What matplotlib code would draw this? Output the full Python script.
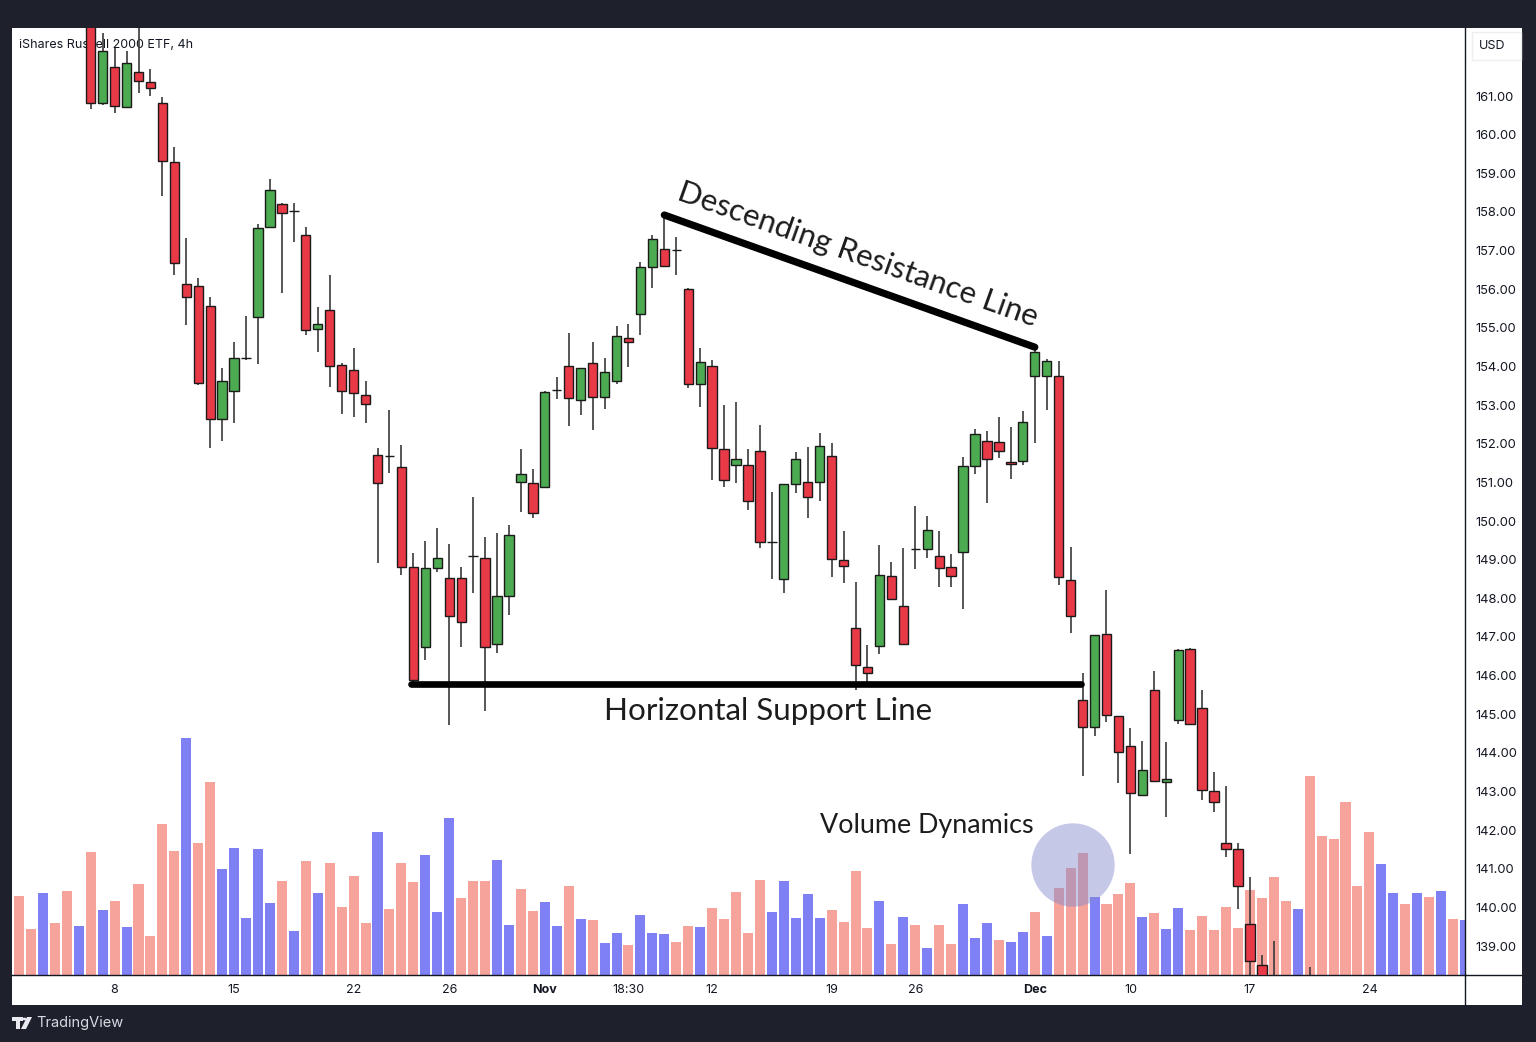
import numpy as np
import matplotlib
matplotlib.use("Agg")
import matplotlib.pyplot as plt
from matplotlib.patches import Rectangle, Polygon, Circle

W, H = 1536, 1042

# 4h candles, first visible bar has index 6 on the time axis
first_candle = 6
opens = [163.40, 160.81, 161.76, 160.72, 161.63, 161.35, 160.81, 159.28, 156.13, 156.09,
         155.57, 152.63, 153.37, 154.23, 155.29, 157.62, 158.20, 158.03, 157.40, 154.97,
         155.46, 154.04, 153.91, 153.26, 151.70, 151.69, 151.41, 148.80, 146.73, 148.78,
         148.52, 148.52, 149.10, 149.04, 146.83, 148.06, 151.02, 150.99, 150.89, 153.39,
         154.01, 153.13, 154.08, 153.20, 153.63, 154.75, 155.36, 156.57, 157.04, 157.01,
         156.00, 153.55, 154.00, 151.86, 151.45, 151.45, 151.81, 149.47, 148.49, 150.96,
         151.00, 151.00, 151.68, 148.98, 147.24, 146.23, 146.77, 148.58, 147.80, 149.28,
         149.28, 149.10, 148.80, 149.21, 151.42, 152.08, 152.05, 151.54, 151.56, 153.76,
         153.76, 153.75, 148.47, 145.38, 144.68, 147.08, 144.95, 144.19, 142.92, 145.62,
         143.25, 144.84, 146.70, 145.17, 143.01, 141.66, 141.50, 139.58, 138.52, 137.90,
         137.20, 136.90, 137.40]
highs = [163.80, 162.64, 162.23, 162.17, 162.90, 161.69, 160.97, 159.69, 157.32, 156.28,
         155.79, 153.95, 154.64, 155.31, 157.69, 158.84, 158.22, 158.22, 157.62, 155.53,
         156.37, 154.10, 154.47, 153.62, 151.88, 152.87, 151.97, 149.18, 149.49, 149.81,
         149.41, 148.80, 150.63, 149.60, 149.68, 149.90, 151.86, 151.34, 153.36, 153.74,
         154.86, 153.97, 154.64, 154.21, 155.05, 155.10, 156.71, 157.40, 157.92, 157.36,
         156.02, 154.49, 154.17, 153.00, 153.09, 151.86, 152.49, 150.74, 150.97, 151.79,
         151.91, 152.29, 152.01, 149.73, 148.43, 146.79, 149.38, 148.95, 149.29, 150.40,
         150.14, 149.73, 149.15, 151.67, 152.37, 152.34, 152.70, 152.44, 152.86, 154.50,
         154.20, 154.13, 149.32, 146.08, 147.06, 148.21, 144.96, 144.65, 144.32, 146.12,
         144.27, 146.68, 146.71, 145.62, 143.51, 143.14, 141.66, 140.80, 138.77, 139.12,
         137.80, 137.60, 138.45]
lows = [160.66, 160.78, 160.57, 160.70, 161.09, 161.00, 158.41, 156.37, 155.07, 153.52,
        151.88, 152.06, 152.53, 154.18, 154.06, 157.60, 155.90, 157.23, 154.81, 154.38,
        153.48, 152.76, 152.68, 152.53, 148.91, 151.24, 148.60, 145.80, 146.40, 148.67,
        144.72, 146.73, 148.13, 145.09, 146.58, 147.57, 150.24, 150.07, 150.85, 153.15,
        152.46, 152.74, 152.36, 152.89, 153.54, 153.98, 154.81, 156.03, 156.58, 156.37,
        153.44, 152.96, 151.06, 150.87, 150.98, 150.29, 149.29, 148.49, 148.13, 150.72,
        150.07, 150.53, 148.56, 148.39, 145.63, 145.76, 146.56, 147.95, 146.82, 148.75,
        149.04, 148.30, 148.30, 147.72, 151.22, 150.46, 151.62, 151.10, 151.45, 152.03,
        152.87, 148.34, 147.10, 143.39, 144.44, 144.81, 143.22, 141.38, 142.90, 143.25,
        142.35, 144.76, 144.74, 142.79, 142.47, 141.31, 139.95, 137.60, 137.20, 136.80,
        136.50, 136.30, 136.80]
closes = [160.83, 162.17, 160.74, 161.85, 161.39, 161.20, 159.33, 156.67, 155.81, 153.56,
          152.63, 153.62, 154.23, 154.23, 157.58, 158.57, 157.98, 158.03, 154.94, 155.09,
          154.01, 153.37, 153.31, 153.02, 150.98, 151.69, 148.82, 145.89, 148.79, 149.04,
          147.54, 147.40, 149.10, 146.73, 148.06, 149.64, 151.22, 150.22, 153.35, 153.39,
          153.18, 153.95, 153.20, 153.85, 154.79, 154.63, 156.57, 157.29, 156.61, 157.01,
          153.55, 154.12, 151.90, 151.06, 151.60, 150.53, 149.45, 149.47, 150.95, 151.60,
          150.62, 151.95, 149.02, 148.84, 146.28, 146.08, 148.60, 147.97, 146.82, 149.28,
          149.77, 148.79, 148.58, 151.43, 152.25, 151.60, 151.82, 151.47, 152.57, 154.38,
          154.15, 148.54, 147.53, 144.68, 147.05, 144.97, 144.02, 142.95, 143.57, 143.27,
          143.33, 146.67, 144.76, 143.03, 142.73, 141.52, 140.55, 138.61, 137.60, 137.10,
          136.90, 137.30, 137.90]

# volume (millions), first bar index -1
first_vol = -1
volumes = [4.7, 7.9, 4.6, 8.2, 5.2, 8.4, 4.9, 12.3, 6.5, 7.4,
           4.8, 9.1, 3.9, 15.1, 12.4, 23.7, 13.2, 19.3, 10.6, 12.7,
           5.7, 12.6, 7.2, 9.4, 4.4, 11.4, 8.2, 11.2, 6.8, 9.9,
           5.2, 14.3, 6.6, 11.2, 9.3, 12.0, 6.3, 15.7, 7.7, 9.4,
           9.4, 11.5, 5.0, 8.6, 6.4, 7.3, 4.9, 8.9, 5.6, 5.5,
           3.2, 4.2, 3.0, 6.0, 4.2, 4.1, 3.3, 4.9, 4.8, 6.7,
           5.6, 8.3, 4.2, 9.5, 6.3, 9.4, 5.7, 8.1, 5.7, 6.5,
           5.3, 10.4, 4.7, 7.4, 3.1, 5.8, 5.0, 2.7, 5.0, 3.1,
           7.1, 3.7, 5.2, 3.5, 3.3, 4.3, 6.3, 3.9, 8.7, 10.7,
           12.2, 7.8, 7.1, 8.1, 9.2, 5.8, 6.2, 4.6, 6.7, 4.5,
           5.9, 4.5, 6.8, 4.7, 8.5, 7.7, 9.8, 7.4, 6.6, 19.9,
           13.9, 13.6, 17.3, 8.9, 14.3, 11.1, 8.2, 7.1, 8.2, 7.8,
           8.4, 5.6, 5.5]
vol_dir = ("ddduddudud" "uddddudduu" "uuudududdd" "duddduuudd" "duudduudud"
           "uuduuuddud" "dddduuuuud" "dddudududd" "uuuduududd" "duddduduud"
           "ddddddddud" "ddddduudud" "udu")

tick_pos = [8, 18, 28, 36, 44, 51, 58, 68, 75, 85, 93, 103, 113]
tick_labels = ["8", "15", "22", "26", "Nov", "18:30", "12", "19", "26", "Dec", "10", "17", "24"]
price_ticks = list(range(139, 162))

# drawn annotations (bar index, price)
support_x = [32.8, 88.9]
support_y = [145.78, 145.78]
resist_x = [54.0, 85.0]
resist_y = [157.92, 154.50]

UP_COL, DOWN_COL = "#4caa50", "#e83946"
VOL_UP, VOL_DOWN = "#8080f5", "#f5a39b"
DARK = "#1e212b"
TXT = "#131722"
NOTE = ["Lato", "DejaVu Sans"]


def fx(x):
    return x / W


def fy(y):
    return 1 - y / H


def fig_line(fig, x0, y0, x1, y1):
    fig.add_artist(plt.Line2D([fx(x0), fx(x1)], [fy(y0), fy(y1)], transform=fig.transFigure,
                              color=TXT, lw=1.0))


def main() -> None:
    plt.rcParams['font.family'] = ['Inter', 'DejaVu Sans']

    fig = plt.figure(figsize=(W / 100, H / 100), dpi=100, facecolor=DARK)
    fig.patches.append(Rectangle((fx(12), fy(1005)), 1510 / W, 977 / H, transform=fig.transFigure,
                                 facecolor="white", edgecolor="none", zorder=-5))

    pos = [fx(12), fy(975), 1453 / W, 947 / H]
    xlim = (-0.586, 121.0)

    # volume pane underneath
    axv = fig.add_axes(pos)
    axv.set_xlim(xlim)
    axv.set_ylim(0, 94.7)
    axv.axis("off")
    vx = np.arange(first_vol, first_vol + len(volumes))
    vcol = [VOL_UP if d == "u" else VOL_DOWN for d in vol_dir]
    axv.bar(vx, volumes, width=0.84, color=vcol, zorder=2)
    # highlight around the volume spike
    axv.scatter([88.2], [11.0], s=3600, color="#868ad0", alpha=0.47, edgecolors="none", zorder=3)

    ax = fig.add_axes(pos)
    ax.patch.set_alpha(0)
    ax.set_xlim(xlim)
    ax.set_ylim(138.252, 162.76)

    o = np.array(opens)
    h = np.array(highs)
    l = np.array(lows)
    c = np.array(closes)
    x = np.arange(first_candle, first_candle + len(o))
    ccol = [UP_COL if cc >= oo else DOWN_COL for oo, cc in zip(o, c)]
    ax.vlines(x, l, h, color="#3a3a3a", lw=1.2, zorder=2)
    ax.bar(x, np.abs(c - o), bottom=np.minimum(o, c), width=0.78, color=ccol,
           edgecolor="#1a1a1a", linewidth=1.0, zorder=3)

    # support / resistance
    ax.plot(support_x, support_y, color="black", lw=4.8, solid_capstyle="round", zorder=4)
    ax.plot(resist_x, resist_y, color="black", lw=5.2, solid_capstyle="round", zorder=4)
    ax.text(62.7, 145.08, "Horizontal Support Line", fontsize=22.6, family=NOTE,
            ha="center", va="center", color="#1c1c1c", zorder=5)
    ax.text(76.0, 142.11, "Volume Dynamics", fontsize=19.4, family=NOTE,
            ha="center", va="center", color="#1c1c1c", zorder=5)
    ax.text(70.2, 156.90, "Descending Resistance Line", fontsize=22.4, family=NOTE,
            ha="center", va="center", rotation=-19.6, rotation_mode="anchor",
            color="#1c1c1c", zorder=5)

    ax.text(0.0048, 0.982, "iShares Russell 2000 ETF, 4h", transform=ax.transAxes,
            fontsize=9, color=TXT, ha="left", va="center", zorder=1)

    # axes
    ax.yaxis.tick_right()
    ax.set_yticks(price_ticks)
    ax.set_yticklabels([f"{p:.2f}" for p in price_ticks])
    ax.set_xticks(tick_pos)
    ax.set_xticklabels(tick_labels)
    for t in ax.get_xticklabels():
        if t.get_text() in ("Nov", "Dec"):
            t.set_fontweight("bold")
    ax.tick_params(axis="y", length=0, pad=7.3, labelsize=9.3, labelcolor=TXT)
    ax.tick_params(axis="x", length=0, pad=6.2, labelsize=9.0, labelcolor=TXT)
    for s in ("top", "left"):
        ax.spines[s].set_visible(False)
    for s in ("right", "bottom"):
        ax.spines[s].set_color(TXT)
        ax.spines[s].set_linewidth(1.0)
    fig_line(fig, 1465, 975, 1522, 975)
    fig_line(fig, 1465, 975, 1465, 1005)

    # currency label
    fig.patches.append(Rectangle((fx(1472), fy(60)), 49 / W, 28 / H, transform=fig.transFigure,
                                 facecolor="white", edgecolor="#eceef2", lw=1.0, zorder=-4))
    fig.text(fx(1492), fy(46), "USD", fontsize=9, color=TXT, ha="center", va="center")

    # footer logo
    logo = [
        [(12, 1017), (23, 1017), (23, 1021), (20, 1021), (20, 1029), (16, 1029), (16, 1021), (12, 1021)],
        [(27, 1017), (32, 1017), (26, 1029), (21, 1029)],
    ]
    for pts in logo:
        fig.patches.append(Polygon([(fx(a), fy(b)) for a, b in pts], closed=True,
                                   transform=fig.transFigure, facecolor="#e8eaf0", edgecolor="none"))
    fig.patches.append(Circle((fx(24.5), fy(1019)), 2 / W, transform=fig.transFigure,
                              facecolor="#e8eaf0", edgecolor="none"))
    fig.text(fx(36), fy(1023), "TradingView", fontsize=10.5, color="#d8dae0", ha="left", va="center")

    fig.savefig("out.png", dpi=100, facecolor=DARK)


if __name__ == '__main__':
    main()
